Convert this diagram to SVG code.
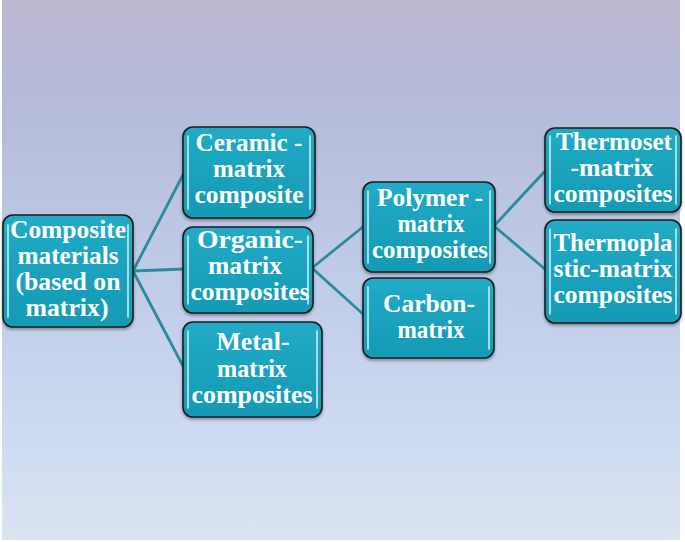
<svg xmlns="http://www.w3.org/2000/svg" width="685" height="542" viewBox="0 0 685 542">
<defs>
<linearGradient id="bg" x1="0" y1="0" x2="0" y2="1">
<stop offset="0" stop-color="#bdb7cf"/>
<stop offset="0.15" stop-color="#b4b9d8"/>
<stop offset="0.5" stop-color="#bfcbe7"/>
<stop offset="0.8" stop-color="#cddaf1"/>
<stop offset="1" stop-color="#dbe3f0"/>
</linearGradient>
<linearGradient id="boxfill" x1="0" y1="0" x2="0" y2="1">
<stop offset="0" stop-color="#22abc6"/>
<stop offset="0.5" stop-color="#1aa2bd"/>
<stop offset="1" stop-color="#189ab5"/>
</linearGradient>
<filter id="sh" x="-10%" y="-10%" width="120%" height="130%">
<feDropShadow dx="0" dy="2" stdDeviation="1.5" flood-color="#000" flood-opacity="0.35"/>
</filter>
</defs>
<style>
.box{fill:url(#boxfill);stroke:#1c1c1c;stroke-width:1.6;filter:url(#sh)}
.gl{stroke:#e8f8fb;stroke-width:1.6;stroke-opacity:0.85;stroke-linecap:round}
.t{font-family:"Liberation Serif","Times New Roman",serif;font-weight:bold;font-size:25px;fill:#ffffff;text-anchor:middle}
.c{stroke:#2a8c9c;stroke-width:2.8;fill:none}
</style>
<rect x="0" y="0" width="685" height="542" fill="#ffffff"/>
<rect x="2" y="0" width="678" height="540" fill="url(#bg)"/>
<g id="connectors">
<line class="c" x1="133" y1="271" x2="184" y2="173"/>
<line class="c" x1="133" y1="271" x2="184" y2="269"/>
<line class="c" x1="133" y1="271" x2="184" y2="368"/>
<line class="c" x1="312" y1="268" x2="364" y2="226"/>
<line class="c" x1="312" y1="268" x2="364" y2="315"/>
<line class="c" x1="494" y1="226" x2="546" y2="170"/>
<line class="c" x1="494" y1="226" x2="546" y2="270"/>
</g>
<g id="n-composite">
<rect class="box" x="3" y="215" width="130" height="112" rx="10"/>
<line class="gl" x1="8" y1="225" x2="8" y2="317"/><line class="gl" x1="128" y1="225" x2="128" y2="317"/>
<text class="t" x="68" y="238" textLength="116" lengthAdjust="spacingAndGlyphs">Composite</text>
<text class="t" x="68" y="264" textLength="101" lengthAdjust="spacingAndGlyphs">materials</text>
<text class="t" x="68" y="290" textLength="105" lengthAdjust="spacingAndGlyphs">(based on</text>
<text class="t" x="67" y="316" textLength="83" lengthAdjust="spacingAndGlyphs">matrix)</text>
</g>
<g id="n-ceramic">
<rect class="box" x="183" y="127" width="132" height="91" rx="10"/>
<line class="gl" x1="188" y1="136" x2="188" y2="209"/><line class="gl" x1="310" y1="136" x2="310" y2="209"/>
<text class="t" x="249" y="151" textLength="107" lengthAdjust="spacingAndGlyphs">Ceramic -</text>
<text class="t" x="249" y="177" textLength="72" lengthAdjust="spacingAndGlyphs">matrix</text>
<text class="t" x="249" y="203" textLength="109" lengthAdjust="spacingAndGlyphs">composite</text>
</g>
<g id="n-organic">
<rect class="box" x="183" y="227" width="130" height="86" rx="10"/>
<line class="gl" x1="188" y1="236" x2="188" y2="304"/><line class="gl" x1="308" y1="236" x2="308" y2="304"/>
<text class="t" x="250" y="248" textLength="106" lengthAdjust="spacingAndGlyphs">Organic-</text>
<text class="t" x="245" y="274" textLength="74" lengthAdjust="spacingAndGlyphs">matrix</text>
<text class="t" x="250" y="300" textLength="119" lengthAdjust="spacingAndGlyphs">composites</text>
</g>
<g id="n-metal">
<rect class="box" x="183" y="322" width="139" height="95" rx="10"/>
<line class="gl" x1="188" y1="331" x2="188" y2="408"/><line class="gl" x1="317" y1="331" x2="317" y2="408"/>
<text class="t" x="253" y="350" textLength="73" lengthAdjust="spacingAndGlyphs">Metal-</text>
<text class="t" x="252" y="377" textLength="70" lengthAdjust="spacingAndGlyphs">matrix</text>
<text class="t" x="252" y="403" textLength="121" lengthAdjust="spacingAndGlyphs">composites</text>
</g>
<g id="n-polymer">
<rect class="box" x="363" y="182" width="132" height="90" rx="10"/>
<line class="gl" x1="368" y1="191" x2="368" y2="263"/><line class="gl" x1="490" y1="191" x2="490" y2="263"/>
<text class="t" x="430" y="206" textLength="106" lengthAdjust="spacingAndGlyphs">Polymer -</text>
<text class="t" x="431" y="232" textLength="67" lengthAdjust="spacingAndGlyphs">matrix</text>
<text class="t" x="430" y="258" textLength="116" lengthAdjust="spacingAndGlyphs">composites</text>
</g>
<g id="n-carbon">
<rect class="box" x="363" y="278" width="131" height="80" rx="10"/>
<line class="gl" x1="368" y1="287" x2="368" y2="349"/><line class="gl" x1="489" y1="287" x2="489" y2="349"/>
<text class="t" x="429" y="312" textLength="92" lengthAdjust="spacingAndGlyphs">Carbon-</text>
<text class="t" x="431" y="338" textLength="67" lengthAdjust="spacingAndGlyphs">matrix</text>
</g>
<g id="n-thermoset">
<rect class="box" x="545" y="128" width="136" height="84" rx="10"/>
<line class="gl" x1="550" y1="136" x2="550" y2="204"/><line class="gl" x1="676" y1="136" x2="676" y2="204"/>
<text class="t" x="614" y="150" textLength="116" lengthAdjust="spacingAndGlyphs">Thermoset</text>
<text class="t" x="612" y="176" textLength="83" lengthAdjust="spacingAndGlyphs">-matrix</text>
<text class="t" x="613" y="202" textLength="119" lengthAdjust="spacingAndGlyphs">composites</text>
</g>
<g id="n-thermoplastic">
<rect class="box" x="545" y="220" width="136" height="103" rx="10"/>
<line class="gl" x1="550" y1="229" x2="550" y2="314"/><line class="gl" x1="676" y1="229" x2="676" y2="314"/>
<text class="t" x="613" y="251" textLength="119" lengthAdjust="spacingAndGlyphs">Thermopla</text>
<text class="t" x="613" y="277" textLength="119" lengthAdjust="spacingAndGlyphs">stic-matrix</text>
<text class="t" x="613" y="303" textLength="119" lengthAdjust="spacingAndGlyphs">composites</text>
</g>
</svg>
